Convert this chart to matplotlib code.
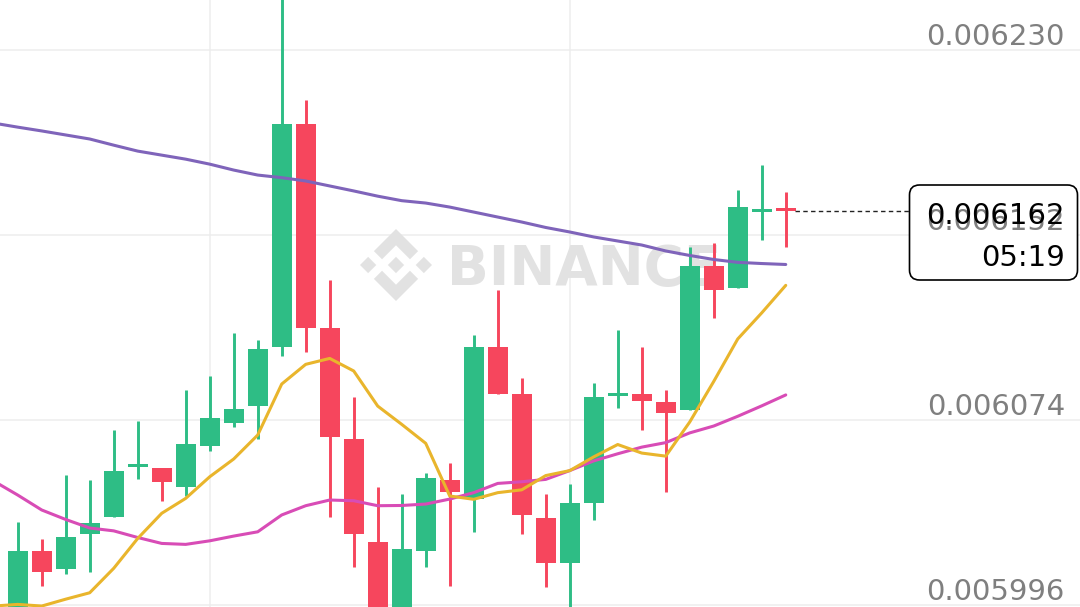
import numpy as np
import matplotlib
matplotlib.use("Agg")
import matplotlib.pyplot as plt
from matplotlib import transforms
from matplotlib.patches import FancyBboxPatch, Polygon

# ---------------- data ----------------
opens = [0.0059930, 0.0060188, 0.0060112, 0.0060259, 0.0060331, 0.0060542, 0.0060538,
         0.0060458, 0.0060630, 0.0060727, 0.0060799, 0.0061048, 0.0061988, 0.0061128,
         0.0060660, 0.0060226, 0.0059930, 0.0060188, 0.0060487, 0.0060407, 0.0061048,
         0.0060850, 0.0060327, 0.0060139, 0.0060390, 0.0060841, 0.0060850, 0.0060816,
         0.0060782, 0.0061389, 0.0061297, 0.0061616, 0.0061626]
closes = [0.0060188, 0.0060099, 0.0060247, 0.0060306, 0.0060525, 0.0060550, 0.0060479,
          0.0060639, 0.0060748, 0.0060786, 0.0061039, 0.0061988, 0.0061128, 0.0060668,
          0.0060259, 0.0059918, 0.0060196, 0.0060496, 0.0060436, 0.0061048, 0.0060850,
          0.0060340, 0.0060139, 0.0060390, 0.0060837, 0.0060850, 0.0060820, 0.0060770,
          0.0061389, 0.0061288, 0.0061638, 0.0061624, 0.0061620]
highs = [0.0060310, 0.0060238, 0.0060508, 0.0060487, 0.0060698, 0.0060736, 0.0060538,
         0.0060867, 0.0060926, 0.0061107, 0.0061077, 0.0062560, 0.0062089, 0.0061330,
         0.0060837, 0.0060458, 0.0060428, 0.0060517, 0.0060559, 0.0061098, 0.0061288,
         0.0060917, 0.0060428, 0.0060470, 0.0060898, 0.0061119, 0.0061048, 0.0060867,
         0.0061469, 0.0061486, 0.0061708, 0.0061817, 0.0061700]
lows = [0.0059897, 0.0060040, 0.0060091, 0.0060099, 0.0060331, 0.0060491, 0.0060399,
        0.0060420, 0.0060609, 0.0060711, 0.0060660, 0.0061010, 0.0061027, 0.0060331,
        0.0060120, 0.0059876, 0.0059897, 0.0060120, 0.0060040, 0.0060268, 0.0060850,
        0.0060259, 0.0060038, 0.0059897, 0.0060320, 0.0060791, 0.0060698, 0.0060436,
        0.0060782, 0.0061170, 0.0061297, 0.0061499, 0.0061471]

# moving averages (first value belongs to the candle just left of the view)
ma_yellow = [0.0059956, 0.0059963, 0.0059956, 0.0059985, 0.0060012, 0.0060115, 0.0060241,
             0.0060347, 0.0060410, 0.0060501, 0.0060576, 0.0060677, 0.0060892, 0.0060975,
             0.0061000, 0.0060947, 0.0060799, 0.0060722, 0.0060642, 0.0060420, 0.0060406,
             0.0060434, 0.0060446, 0.0060506, 0.0060527, 0.0060585, 0.0060637, 0.0060601,
             0.0060588, 0.0060732, 0.0060903, 0.0061082, 0.0061192, 0.0061308]
ma_pink = [0.0060483, 0.0060424, 0.0060361, 0.0060321, 0.0060285, 0.0060273, 0.0060245,
           0.0060220, 0.0060216, 0.0060231, 0.0060251, 0.0060269, 0.0060340, 0.0060379,
           0.0060403, 0.0060400, 0.0060379, 0.0060380, 0.0060386, 0.0060407, 0.0060434,
           0.0060473, 0.0060480, 0.0060490, 0.0060527, 0.0060568, 0.0060598, 0.0060626,
           0.0060645, 0.0060686, 0.0060715, 0.0060756, 0.0060800, 0.0060846]
ma_purple = [0.0061992, 0.0061975, 0.0061959, 0.0061942, 0.0061925, 0.0061899, 0.0061874,
             0.0061857, 0.0061840, 0.0061819, 0.0061794, 0.0061773, 0.0061762, 0.0061748,
             0.0061727, 0.0061706, 0.0061684, 0.0061665, 0.0061655, 0.0061638, 0.0061617,
             0.0061596, 0.0061575, 0.0061552, 0.0061533, 0.0061512, 0.0061495, 0.0061478,
             0.0061453, 0.0061434, 0.0061417, 0.0061405, 0.0061400, 0.0061396]

price_ticks = [0.006230, 0.006152, 0.006074, 0.005996]
price_labels = ["0.006230", "0.006152", "0.006074", "0.005996"]
last_price_label = "0.006162"
countdown_label = "05:19"
time_grid = [8, 23]

# ---------------- style ----------------
GREEN = "#2EBD85"
RED = "#F6465D"
YELLOW = "#E9B52C"
PINK = "#D84CB6"
PURPLE = "#7F64BA"
GRID = "#EDEDED"
LABEL = "#7F7F7F"
WATER = "#E2E2E2"

W, H = 1080, 607
fig = plt.figure(figsize=(W / 100, H / 100), dpi=100)
fig.patch.set_facecolor("white")
ax = fig.add_axes([0, 0, 1, 1])
ax.set_xlim(-0.7375, 44.26)
ax.set_ylim(0.0059952, 0.0062511)
ax.axis("off")

# pixel transform (origin top-left)
pix = transforms.Affine2D().scale(1, -1).translate(0, H)

# grid
for p in price_ticks:
    ax.axhline(p, color=GRID, lw=1.1, zorder=0.5)
for t in time_grid:
    ax.axvline(t, color=GRID, lw=1.1, zorder=0.5)

# watermark logo + text
logo_parts = [
    [(38.73, 53.2), (63.3, 28.63), (87.88, 53.2), (102.18, 38.91), (63.3, 0), (24.43, 38.88)],
    [(0, 63.31), (14.3, 49.01), (28.59, 63.31), (14.29, 77.6)],
    [(49.0, 63.31), (63.3, 49.0), (77.6, 63.31), (63.3, 77.6)],
    [(98.02, 63.31), (112.31, 49.01), (126.61, 63.3), (112.31, 77.6)],
    [(87.88, 73.4), (63.3, 97.98), (38.73, 73.41), (24.41, 87.7), (63.3, 126.61), (102.18, 87.73)],
]
s = 72 / 126.61
for part in logo_parts:
    pts = [(360 + x * s, 229 + y * s) for x, y in part]
    ax.add_patch(Polygon(pts, closed=True, transform=pix, fc=WATER, ec="none", zorder=0.6))
ax.text(447, 285, "BINANCE", transform=pix, fontsize=39.5, fontweight="bold",
        color=WATER, ha="left", va="baseline", zorder=0.6, family="DejaVu Sans")

# candles
x = np.arange(len(opens))
o = np.array(opens); c = np.array(closes)
cols = [GREEN if cc >= oo else RED for oo, cc in zip(o, c)]
min_h = 1.3e-6
bottoms = np.minimum(o, c)
heights = np.maximum(np.abs(c - o), min_h)
ax.vlines(x, lows, highs, colors=cols, lw=2.1, zorder=2.5)
ax.bar(x, heights, bottom=bottoms, width=0.83, color=cols, linewidth=0, zorder=3)

# moving averages
xm = np.arange(-1, len(opens))
ax.plot(xm, ma_purple, color=PURPLE, lw=2.2, zorder=4, solid_capstyle="round")
ax.plot(xm, ma_pink, color=PINK, lw=2.2, zorder=4, solid_capstyle="round")
ax.plot(xm, ma_yellow, color=YELLOW, lw=2.2, zorder=4, solid_capstyle="round")

# last price dashed line
ax.axhline(closes[-1], xmin=795 / W, xmax=909 / W, color="#222222", lw=1.0,
           dashes=(3.2, 2.4), zorder=5)

# value box
box = FancyBboxPatch((909.5, 185), 168, 95, boxstyle="round,pad=0,rounding_size=10",
                     transform=pix, fc="white", ec="black", lw=1.2, zorder=7)
ax.add_patch(box)

# price labels
blend = transforms.blended_transform_factory(ax.transAxes, ax.transData)
lab_tr = transforms.offset_copy(blend, fig=fig, y=5.5, units="dots")
for p, lab in zip(price_ticks, price_labels):
    ax.text(1065 / W, p, lab, transform=lab_tr, ha="right", va="baseline",
            fontsize=21, color=LABEL, zorder=8)

last_tr = transforms.offset_copy(blend, fig=fig, y=-13, units="dots")
ax.text(1065 / W, closes[-1], last_price_label, transform=last_tr, ha="right",
        va="baseline", fontsize=21, color="black", zorder=9)
ax.text(1065, 266, countdown_label, transform=pix, ha="right", va="baseline",
        fontsize=21, color="black", zorder=9)

fig.savefig("out.png", dpi=100, facecolor="white")
